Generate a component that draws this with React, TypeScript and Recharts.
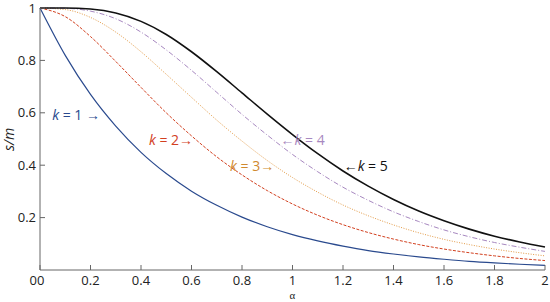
import React from 'react'
import { LineChart, Line, XAxis, YAxis, ReferenceDot } from 'recharts'

const alpha = [0, 0.1, 0.2, 0.3, 0.4, 0.5, 0.6, 0.7, 0.8, 0.9, 1, 1.1, 1.2, 1.3, 1.4, 1.5, 1.6, 1.7, 1.8, 1.9, 2]
const k1 = [1, 0.819, 0.67, 0.549, 0.449, 0.368, 0.301, 0.247, 0.202, 0.165, 0.135, 0.111, 0.091, 0.074, 0.061, 0.05, 0.041, 0.033, 0.027, 0.022, 0.018]
const k2 = [1, 0.967, 0.891, 0.796, 0.697, 0.6, 0.512, 0.432, 0.363, 0.303, 0.252, 0.209, 0.173, 0.143, 0.118, 0.097, 0.08, 0.066, 0.054, 0.044, 0.036]
const k3 = [1, 0.994, 0.964, 0.908, 0.833, 0.747, 0.659, 0.572, 0.492, 0.418, 0.353, 0.297, 0.248, 0.207, 0.172, 0.142, 0.117, 0.097, 0.08, 0.066, 0.054]
const k4 = [1, 0.999, 0.988, 0.959, 0.908, 0.84, 0.762, 0.678, 0.594, 0.515, 0.441, 0.375, 0.316, 0.266, 0.222, 0.185, 0.153, 0.127, 0.105, 0.087, 0.071]
const k5 = [1, 1, 0.996, 0.981, 0.949, 0.899, 0.833, 0.757, 0.676, 0.595, 0.517, 0.444, 0.378, 0.32, 0.269, 0.225, 0.188, 0.156, 0.129, 0.107, 0.088]

const xTicks = [0, 0.2, 0.4, 0.6, 0.8, 1, 1.2, 1.4, 1.6, 1.8, 2]
const yTicks = [0.2, 0.4, 0.6, 0.8, 1]

// curve labels placed in data coords
const labels = [
  { a: 0.143, v: 0.592, n: '1', pre: '', post: ' \u2192', color: '#2a4a8e' },
  { a: 0.519, v: 0.496, n: '2', pre: '', post: '\u2192', color: '#d2401f' },
  { a: 0.84, v: 0.397, n: '3', pre: '', post: '\u2192', color: '#d08a30' },
  { a: 1.04, v: 0.496, n: '4', pre: '\u2190', post: '', color: '#a788c0' },
  { a: 1.29, v: 0.397, n: '5', pre: '\u2190', post: '', color: '#111' },
]

const data = alpha.map((a, i) => ({ a, k1: k1[i], k2: k2[i], k3: k3[i], k4: k4[i], k5: k5[i] }))

const FONT = '"Open Sans", sans-serif'
const AXIS = '#666'

const BottomTick = ({ x, y, payload }: any) => (
  <g>
    <line x1={x} x2={x} y1={y} y2={y - 5} stroke={AXIS} />
    <text x={payload.value === 0 ? x - 3 : x} y={y + 15} textAnchor="middle" fontSize={13} fill="#222" fontFamily={FONT}>
      {payload.value === 0 ? '00' : String(payload.value)}
    </text>
  </g>
)
const LeftTick = ({ x, y, payload }: any) => (
  <g>
    <line x1={x} x2={x + 5} y1={y} y2={y} stroke={AXIS} />
    <text x={x - 4} y={y} dy="0.35em" textAnchor="end" fontSize={13} fill="#222" fontFamily={FONT}>
      {String(payload.value)}
    </text>
  </g>
)
const TopTick = ({ x, y }: any) => <line x1={x} x2={x} y1={y} y2={y + 5} stroke={AXIS} />
const RightTick = ({ x, y }: any) => <line x1={x} x2={x - 5} y1={y} y2={y} stroke={AXIS} />

const CurveLabel = ({ viewBox, l }: any) => (
  <text x={viewBox.x} y={viewBox.y} dy="0.35em" textAnchor="middle" fontSize={14} fill={l.color} fontFamily={FONT}>
    {l.pre}<tspan fontStyle="italic">k</tspan>{' = ' + l.n + l.post}
  </text>
)

export default function App() {
  return (
    <div style={{ position: 'absolute', left: 0, top: 0, width: 550, height: 302, background: '#fff' }}>
      <LineChart width={550} height={302} data={data} margin={{ top: 8, right: 5, left: 0, bottom: 0 }}>
        <XAxis dataKey="a" type="number" domain={[0, 2]} ticks={xTicks} height={32} stroke={AXIS}
          tickLine={false} tickSize={0} tickMargin={0} tick={<BottomTick />} interval={0}
          label={{ value: '\u03b1', position: 'insideBottom', offset: 3, fontSize: 11, fill: '#222', fontFamily: 'serif' }} />
        <XAxis xAxisId="top" dataKey="a" type="number" domain={[0, 2]} ticks={xTicks} orientation="top" height={0}
          stroke={AXIS} tickLine={false} tickSize={0} tickMargin={0} tick={<TopTick />} interval={0} />
        <YAxis type="number" domain={[0, 1]} ticks={yTicks} width={40} stroke={AXIS}
          tickLine={false} tickSize={0} tickMargin={0} tick={<LeftTick />} interval={0}
          label={{ value: 's/m', angle: -90, position: 'insideLeft', offset: 9, dy: 12, fontSize: 14, fontStyle: 'italic', fill: '#222', fontFamily: FONT }} />
        <YAxis yAxisId="right" type="number" domain={[0, 1]} ticks={yTicks} orientation="right" width={0}
          stroke={AXIS} tickLine={false} tickSize={0} tickMargin={0} tick={<RightTick />} interval={0} />
        <Line dataKey="k1" type="monotone" stroke="#2a4a8e" strokeWidth={1.2} dot={false} isAnimationActive={false} />
        <Line dataKey="k2" type="monotone" stroke="#d2401f" strokeWidth={1} strokeDasharray="3 1.5" dot={false} isAnimationActive={false} />
        <Line dataKey="k3" type="monotone" stroke="#e39a45" strokeWidth={1} strokeDasharray="1 1.5" dot={false} isAnimationActive={false} />
        <Line dataKey="k4" type="monotone" stroke="#a788c0" strokeWidth={1} strokeDasharray="5 2 1 2" dot={false} isAnimationActive={false} />
        <Line dataKey="k5" type="monotone" stroke="#111" strokeWidth={1.6} dot={false} isAnimationActive={false} />
        {labels.map((l) => (
          <ReferenceDot key={l.n} x={l.a} y={l.v} r={0} fill="none" stroke="none" label={<CurveLabel l={l} />} />
        ))}
      </LineChart>
    </div>
  )
}
